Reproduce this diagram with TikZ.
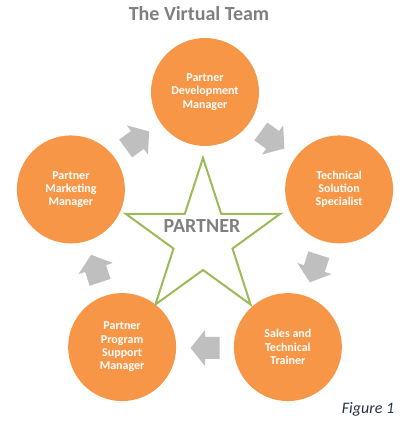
\documentclass[tikz,border=0pt]{standalone}
\usepackage{fontspec}
\setmainfont{Carlito}
\usetikzlibrary{calc}
\definecolor{teamorange}{RGB}{247,150,70}
\definecolor{stargreen}{RGB}{155,187,89}
\definecolor{arrowgrey}{RGB}{191,191,191}
\definecolor{titlegrey}{RGB}{127,127,127}
\definecolor{figblue}{RGB}{38,48,75}
\tikzset{
  member/.style={circle, fill=teamorange, minimum size=108pt, inner sep=0pt,
    text=white, align=center, font=\bfseries\fontsize{12}{13.3}\selectfont},
  blockarrow/.style={fill=arrowgrey, draw=none},
  starline/.style={draw=stargreen, line width=2pt, line join=miter}
}
\begin{document}
\begin{tikzpicture}[x=1pt,y=1pt]
\useasboundingbox (0,0) rectangle (413,426);
\coordinate (C) at (205,193);
\node[font=\bfseries\fontsize{20}{24}\selectfont, text=titlegrey] (title) at (199,412) {The Virtual Team};
% members
\node[member] (pdm) at ($(C)+(90:141)$) {Partner\\Development\\Manager};
\node[member] (tss) at ($(C)+(18:141)$) {Technical\\Solution\\Specialist};
\node[member] (stt) at ($(C)+(-54:141)$) {Sales and\\Technical\\Trainer};
\node[member] (pps) at ($(C)+(-126:141)$) {Partner\\Program\\Support\\Manager};
\node[member] (pmm) at ($(C)+(162:141)$) {Partner\\Marketing\\Manager};
% arrows
\foreach \a in {54,-18,-90,-162,126}{
  \fill[blockarrow, shift={($(C)+(\a:115)$)}, rotate=\a-90]
    (14.5,0) -- (0,18) -- (0,11) -- (-14.5,11) -- (-14.5,-11) -- (0,-11) -- (0,-18) -- cycle;
}
% star
\coordinate (S) at (203,187);
\draw[starline] ($(S)+(90:81)$) -- ($(S)+(126:31)$) -- ($(S)+(162:81)$) -- ($(S)+(198:31)$)
  -- ($(S)+(234:81)$) -- ($(S)+(270:31)$) -- ($(S)+(306:81)$) -- ($(S)+(342:31)$)
  -- ($(S)+(18:81)$) -- ($(S)+(54:31)$) -- cycle;
\node[font=\bfseries\fontsize{20}{24}\selectfont, text=titlegrey] (partner) at (202,200) {PARTNER};
\node[font=\itshape\fontsize{16}{19}\selectfont, text=figblue] (fig) at (368,17) {Figure 1};
\end{tikzpicture}
\end{document}
